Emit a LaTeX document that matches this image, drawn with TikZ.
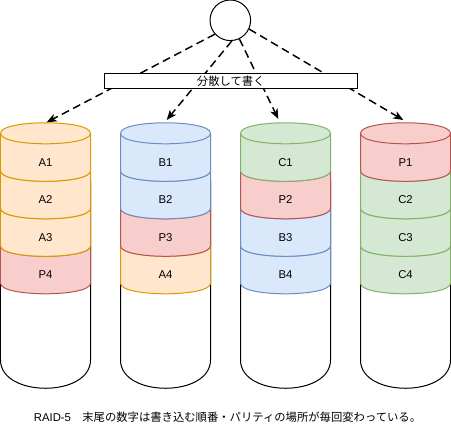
\documentclass[tikz,border=0pt]{standalone}
\usepackage{fontspec}
\setmainfont{Liberation Sans}
\newfontfamily\jpfont{Noto Sans CJK JP}
\usetikzlibrary{arrows.meta}
\definecolor{orfill}{HTML}{FFE6CC}\definecolor{ordraw}{HTML}{D79B00}
\definecolor{blfill}{HTML}{DAE8FC}\definecolor{bldraw}{HTML}{6C8EBF}
\definecolor{gnfill}{HTML}{D5E8D4}\definecolor{gndraw}{HTML}{82B366}
\definecolor{rdfill}{HTML}{F8CECC}\definecolor{rddraw}{HTML}{B85450}
\begin{document}
\begin{tikzpicture}[x=0.75pt,y=0.75pt,
            txt/.style={font=\fontsize{8.5}{10}\selectfont},
            arr/.style={line width=1.1pt, dash pattern=on 6pt off 3.5pt, -{Stealth[length=7.5pt,width=6pt,inset=2pt]}},
            pics/diskseg/.style 2 args={code={
                \path[fill=#1fill, draw=#1draw, line width=0.75pt] (-45,0) .. controls (-45,14) and (45,14) .. (45,0) -- (45,-37.5) .. controls (45,-51.5) and (-45,-51.5) .. (-45,-37.5) -- cycle;
                \draw[#1draw, line width=0.75pt] (-45,0) .. controls (-45,-14) and (45,-14) .. (45,0);
                \node[txt] (-lab) at (0,-29.25) {#2};
            }}
            ]
            \useasboundingbox (0,0) rectangle (451,431);

            % disks, drawn from the bottom up
            \foreach \x/\ca/\la/\cb/\lb/\cc/\lc/\cd/\ld in {45.5/or/A1/or/A2/or/A3/rd/P4, 165.5/bl/B1/bl/B2/rd/P3/or/A4, 285.5/gn/C1/rd/P2/bl/B3/bl/B4, 405.5/rd/P1/gn/C2/gn/C3/gn/C4}{
                \draw[fill=white, line width=0.75pt] (\x-45,250) -- (\x-45,71) .. controls (\x-45,33.3) and (\x+45,33.3) .. (\x+45,71) -- (\x+45,250);
                \pic at (\x,185.2) {diskseg={\cd}{\ld}};
                \pic at (\x,222.7) {diskseg={\cc}{\lc}};
                \pic at (\x,260.2) {diskseg={\cb}{\lb}};
                \pic at (\x,297.7) {diskseg={\ca}{\la}};
            }

            \node[circle, draw, line width=0.75pt, minimum size=30.45pt, inner sep=0pt] (src) at (230.3,410.7) {};
            \coordinate (t1) at (46.7,308.7);
            \coordinate (t2) at (166.7,311);
            \coordinate (t3) at (278.3,312);
            \coordinate (t4) at (403.3,311);

            \draw[arr] (src.-138) -- (t1);
            \draw[arr] (src.-86) -- (t2);
            \draw[arr] (src.-64) -- (t3);
            \draw[arr] (src.-25) -- (t4);

            \node[draw, fill=white, line width=0.75pt, minimum width=189.75pt, minimum height=11.25pt, inner sep=0pt, txt] (note) at (230.8,350.2) {\jpfont 分散して書く};

            \node[txt] (cap) at (227.5,13.7) {RAID-5\jpfont　末尾の数字は書き込む順番・パリティの場所が毎回変わっている。};

            \end{tikzpicture}
\end{document}
